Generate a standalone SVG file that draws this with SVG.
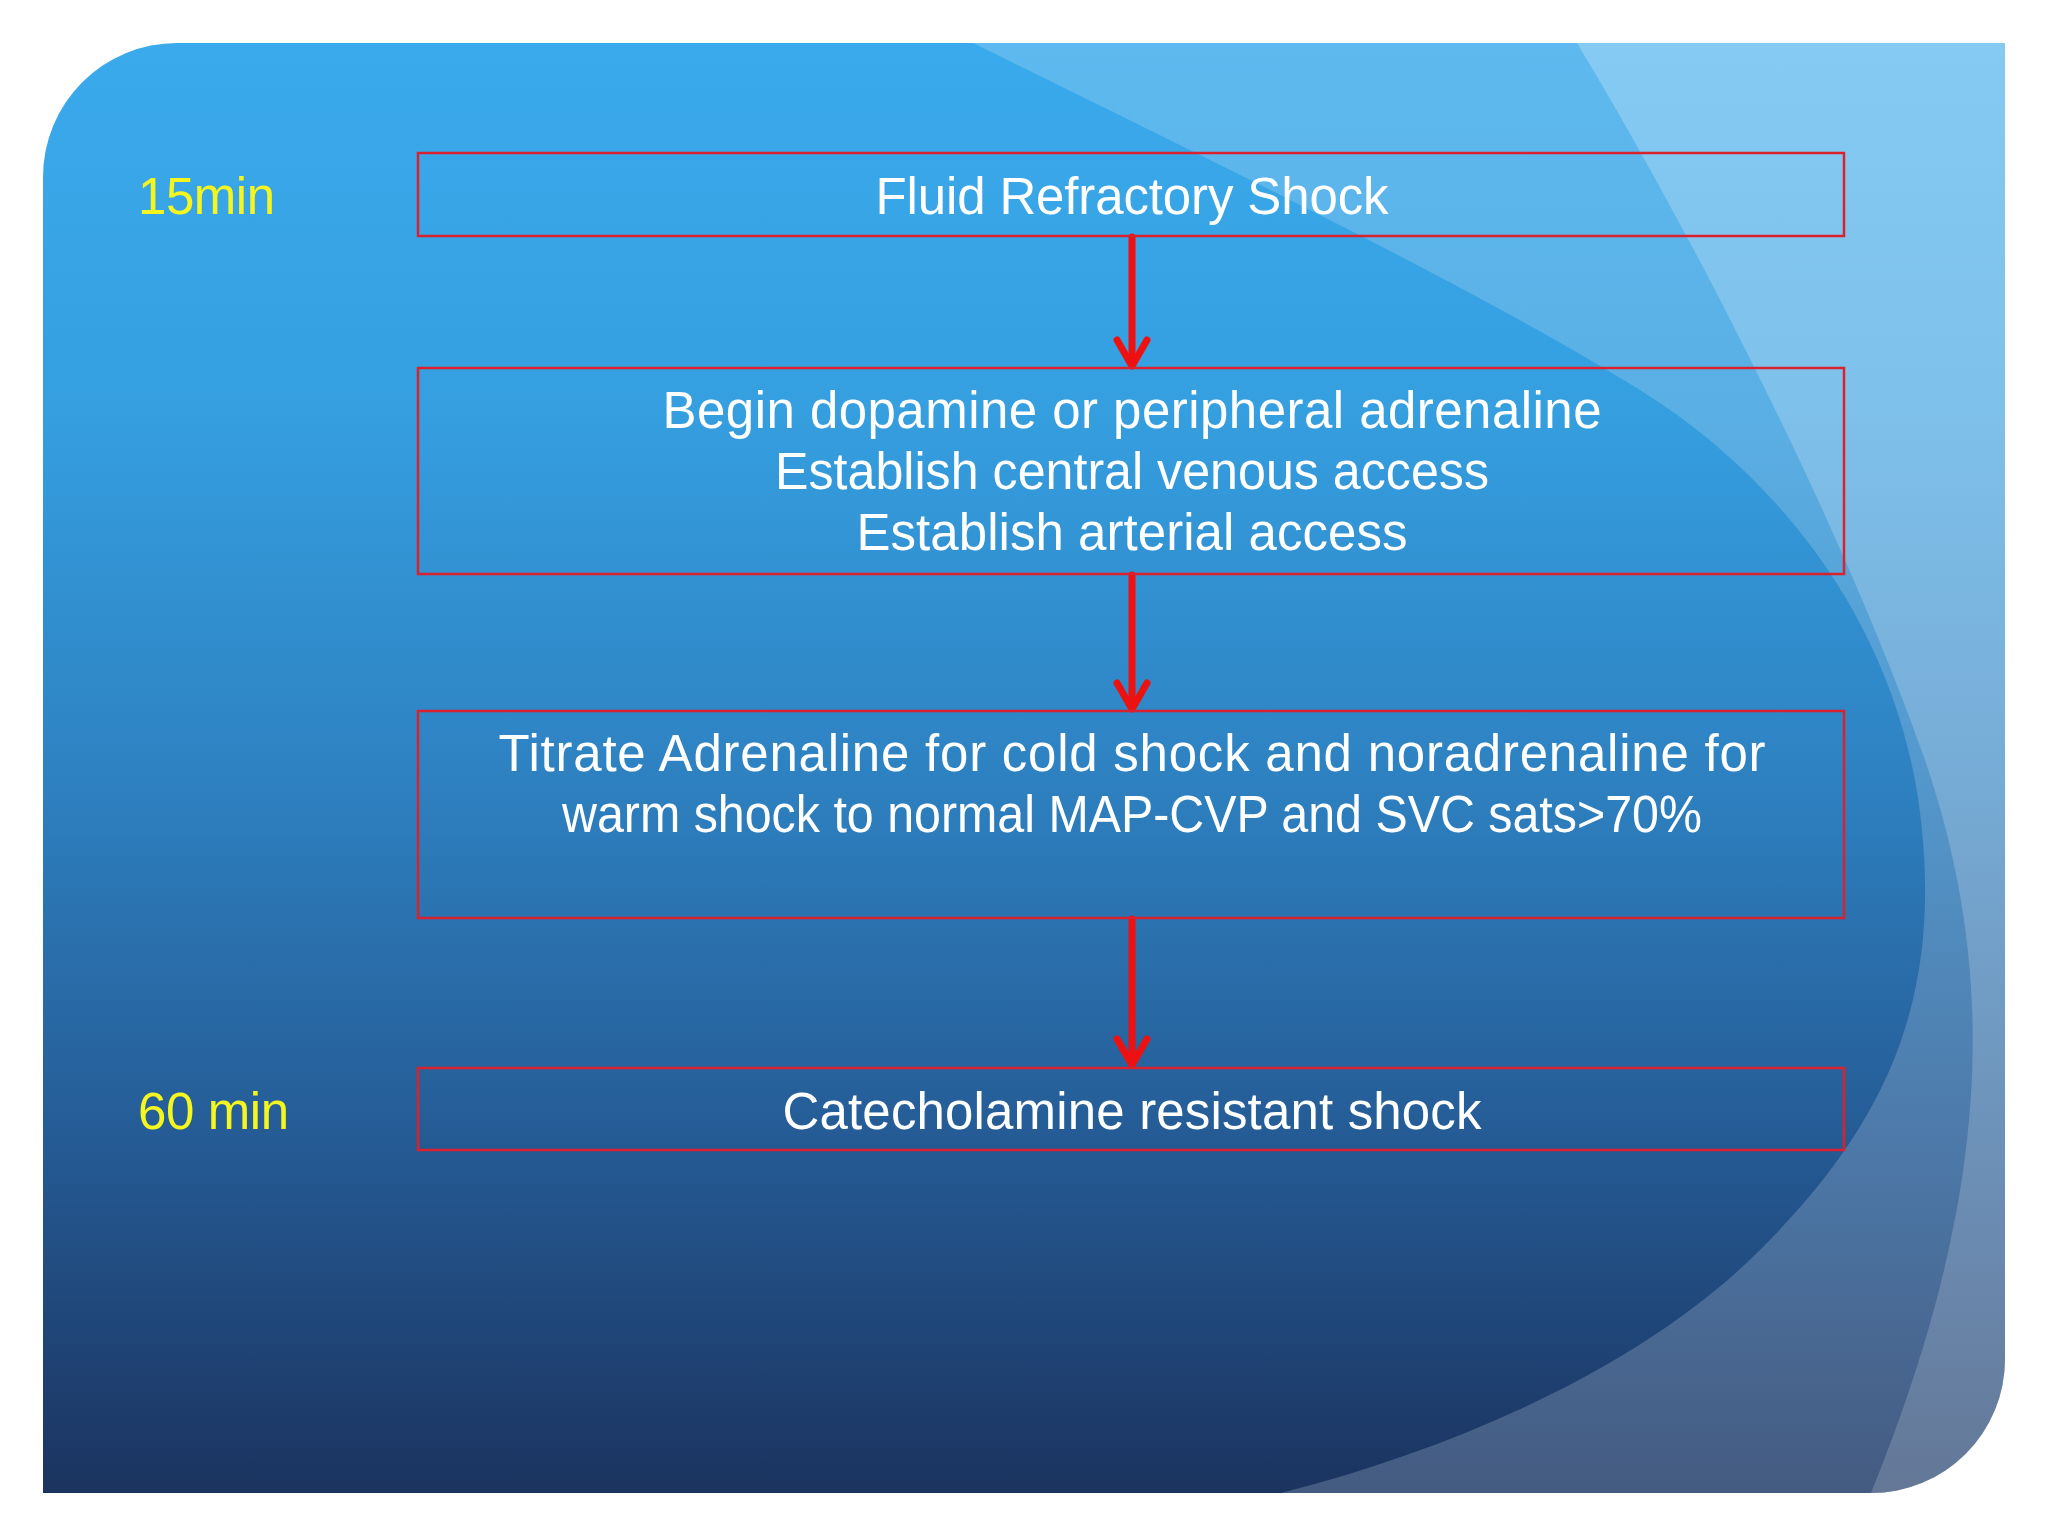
<svg xmlns="http://www.w3.org/2000/svg" width="2048" height="1536" viewBox="0 0 2048 1536">
  <defs>
    <linearGradient id="bg" x1="0" y1="43" x2="0" y2="1493" gradientUnits="userSpaceOnUse">
      <stop offset="0" stop-color="#3AAAEC"/>
      <stop offset="0.25" stop-color="#359FE0"/>
      <stop offset="0.5" stop-color="#2E82C2"/>
      <stop offset="0.75" stop-color="#255C96"/>
      <stop offset="1" stop-color="#1B335F"/>
    </linearGradient>
    <linearGradient id="ovA" x1="0" y1="43" x2="0" y2="1493" gradientUnits="userSpaceOnUse">
      <stop offset="0" stop-color="#FFFFFF" stop-opacity="0.18"/>
      <stop offset="1" stop-color="#C8D8EA" stop-opacity="0.24"/>
    </linearGradient>
    <linearGradient id="ovB" x1="0" y1="43" x2="0" y2="1493" gradientUnits="userSpaceOnUse">
      <stop offset="0" stop-color="#FFFFFF" stop-opacity="0.24"/>
      <stop offset="1" stop-color="#E0E8F0" stop-opacity="0.2"/>
    </linearGradient>
    <clipPath id="panelClip">
      <path d="M43,177 A134,134 0 0 1 177,43 L2005,43 L2005,1359 A134,134 0 0 1 1871,1493 L43,1493 Z"/>
    </clipPath>
  </defs>
  <style>
    .box { fill: none; stroke: #D9222D; stroke-width: 2.5; }
    .txt { font-family: "Liberation Sans", Arial, sans-serif; font-size: 51px; fill: #FFFFFF; text-anchor: middle; }
    .time { font-family: "Liberation Sans", Arial, sans-serif; font-size: 51px; fill: #F5F520; }
    .conn { stroke: #EE1111; stroke-width: 7; fill: none; stroke-linecap: round; stroke-linejoin: round; }
  </style>

  <rect x="0" y="0" width="2048" height="1536" fill="#FFFFFF"/>

  <g id="background" clip-path="url(#panelClip)">
    <rect x="43" y="43" width="1962" height="1450" fill="url(#bg)"/>
    <path d="M973,43 C1200,155 1480,290 1640,390 C1800,490 1905,650 1922,830 C1940,1010 1880,1130 1760,1250 C1640,1370 1450,1450 1281,1493 L2010,1500 L2010,40 Z" fill="url(#ovA)"/>
    <path d="M1577,43 C1690,230 1840,520 1925,760 C2000,980 1990,1200 1871,1493 L2010,1500 L2010,40 Z" fill="url(#ovB)"/>
  </g>

  <g id="connectors">
    <g id="arrow1">
      <line class="conn" x1="1132" y1="237" x2="1132" y2="364"/>
      <polyline class="conn" points="1117,340 1132,366 1147,340"/>
    </g>
    <g id="arrow2">
      <line class="conn" x1="1132" y1="575" x2="1132" y2="707"/>
      <polyline class="conn" points="1117,683 1132,709 1147,683"/>
    </g>
    <g id="arrow3">
      <line class="conn" x1="1132" y1="919" x2="1132" y2="1063"/>
      <polyline class="conn" points="1117,1039 1132,1065 1147,1039"/>
    </g>
  </g>

  <g id="label-15min">
    <text class="time" x="138" y="214" textLength="137">15min</text>
  </g>
  <g id="label-60min">
    <text class="time" x="138" y="1129" textLength="151">60 min</text>
  </g>

  <g id="node1">
    <rect class="box" x="418" y="153" width="1426" height="83"/>
    <text class="txt" x="1132" y="214" textLength="513">Fluid Refractory Shock</text>
  </g>
  <g id="node2">
    <rect class="box" x="418" y="368" width="1426" height="206"/>
    <text class="txt" x="1132" y="428" textLength="939">Begin dopamine or peripheral adrenaline</text>
    <text class="txt" x="1132" y="489" textLength="714" lengthAdjust="spacingAndGlyphs">Establish central venous access</text>
    <text class="txt" x="1132" y="550" textLength="551">Establish arterial access</text>
  </g>
  <g id="node3">
    <rect class="box" x="418" y="711" width="1426" height="207"/>
    <text class="txt" x="1132" y="771" textLength="1267">Titrate Adrenaline for cold shock and noradrenaline for</text>
    <text class="txt" x="1132" y="832" textLength="1140" lengthAdjust="spacingAndGlyphs">warm shock to normal MAP-CVP and SVC sats&gt;70%</text>
  </g>
  <g id="node4">
    <rect class="box" x="418" y="1068" width="1426" height="82"/>
    <text class="txt" x="1132" y="1129" textLength="699">Catecholamine resistant shock</text>
  </g>
</svg>
